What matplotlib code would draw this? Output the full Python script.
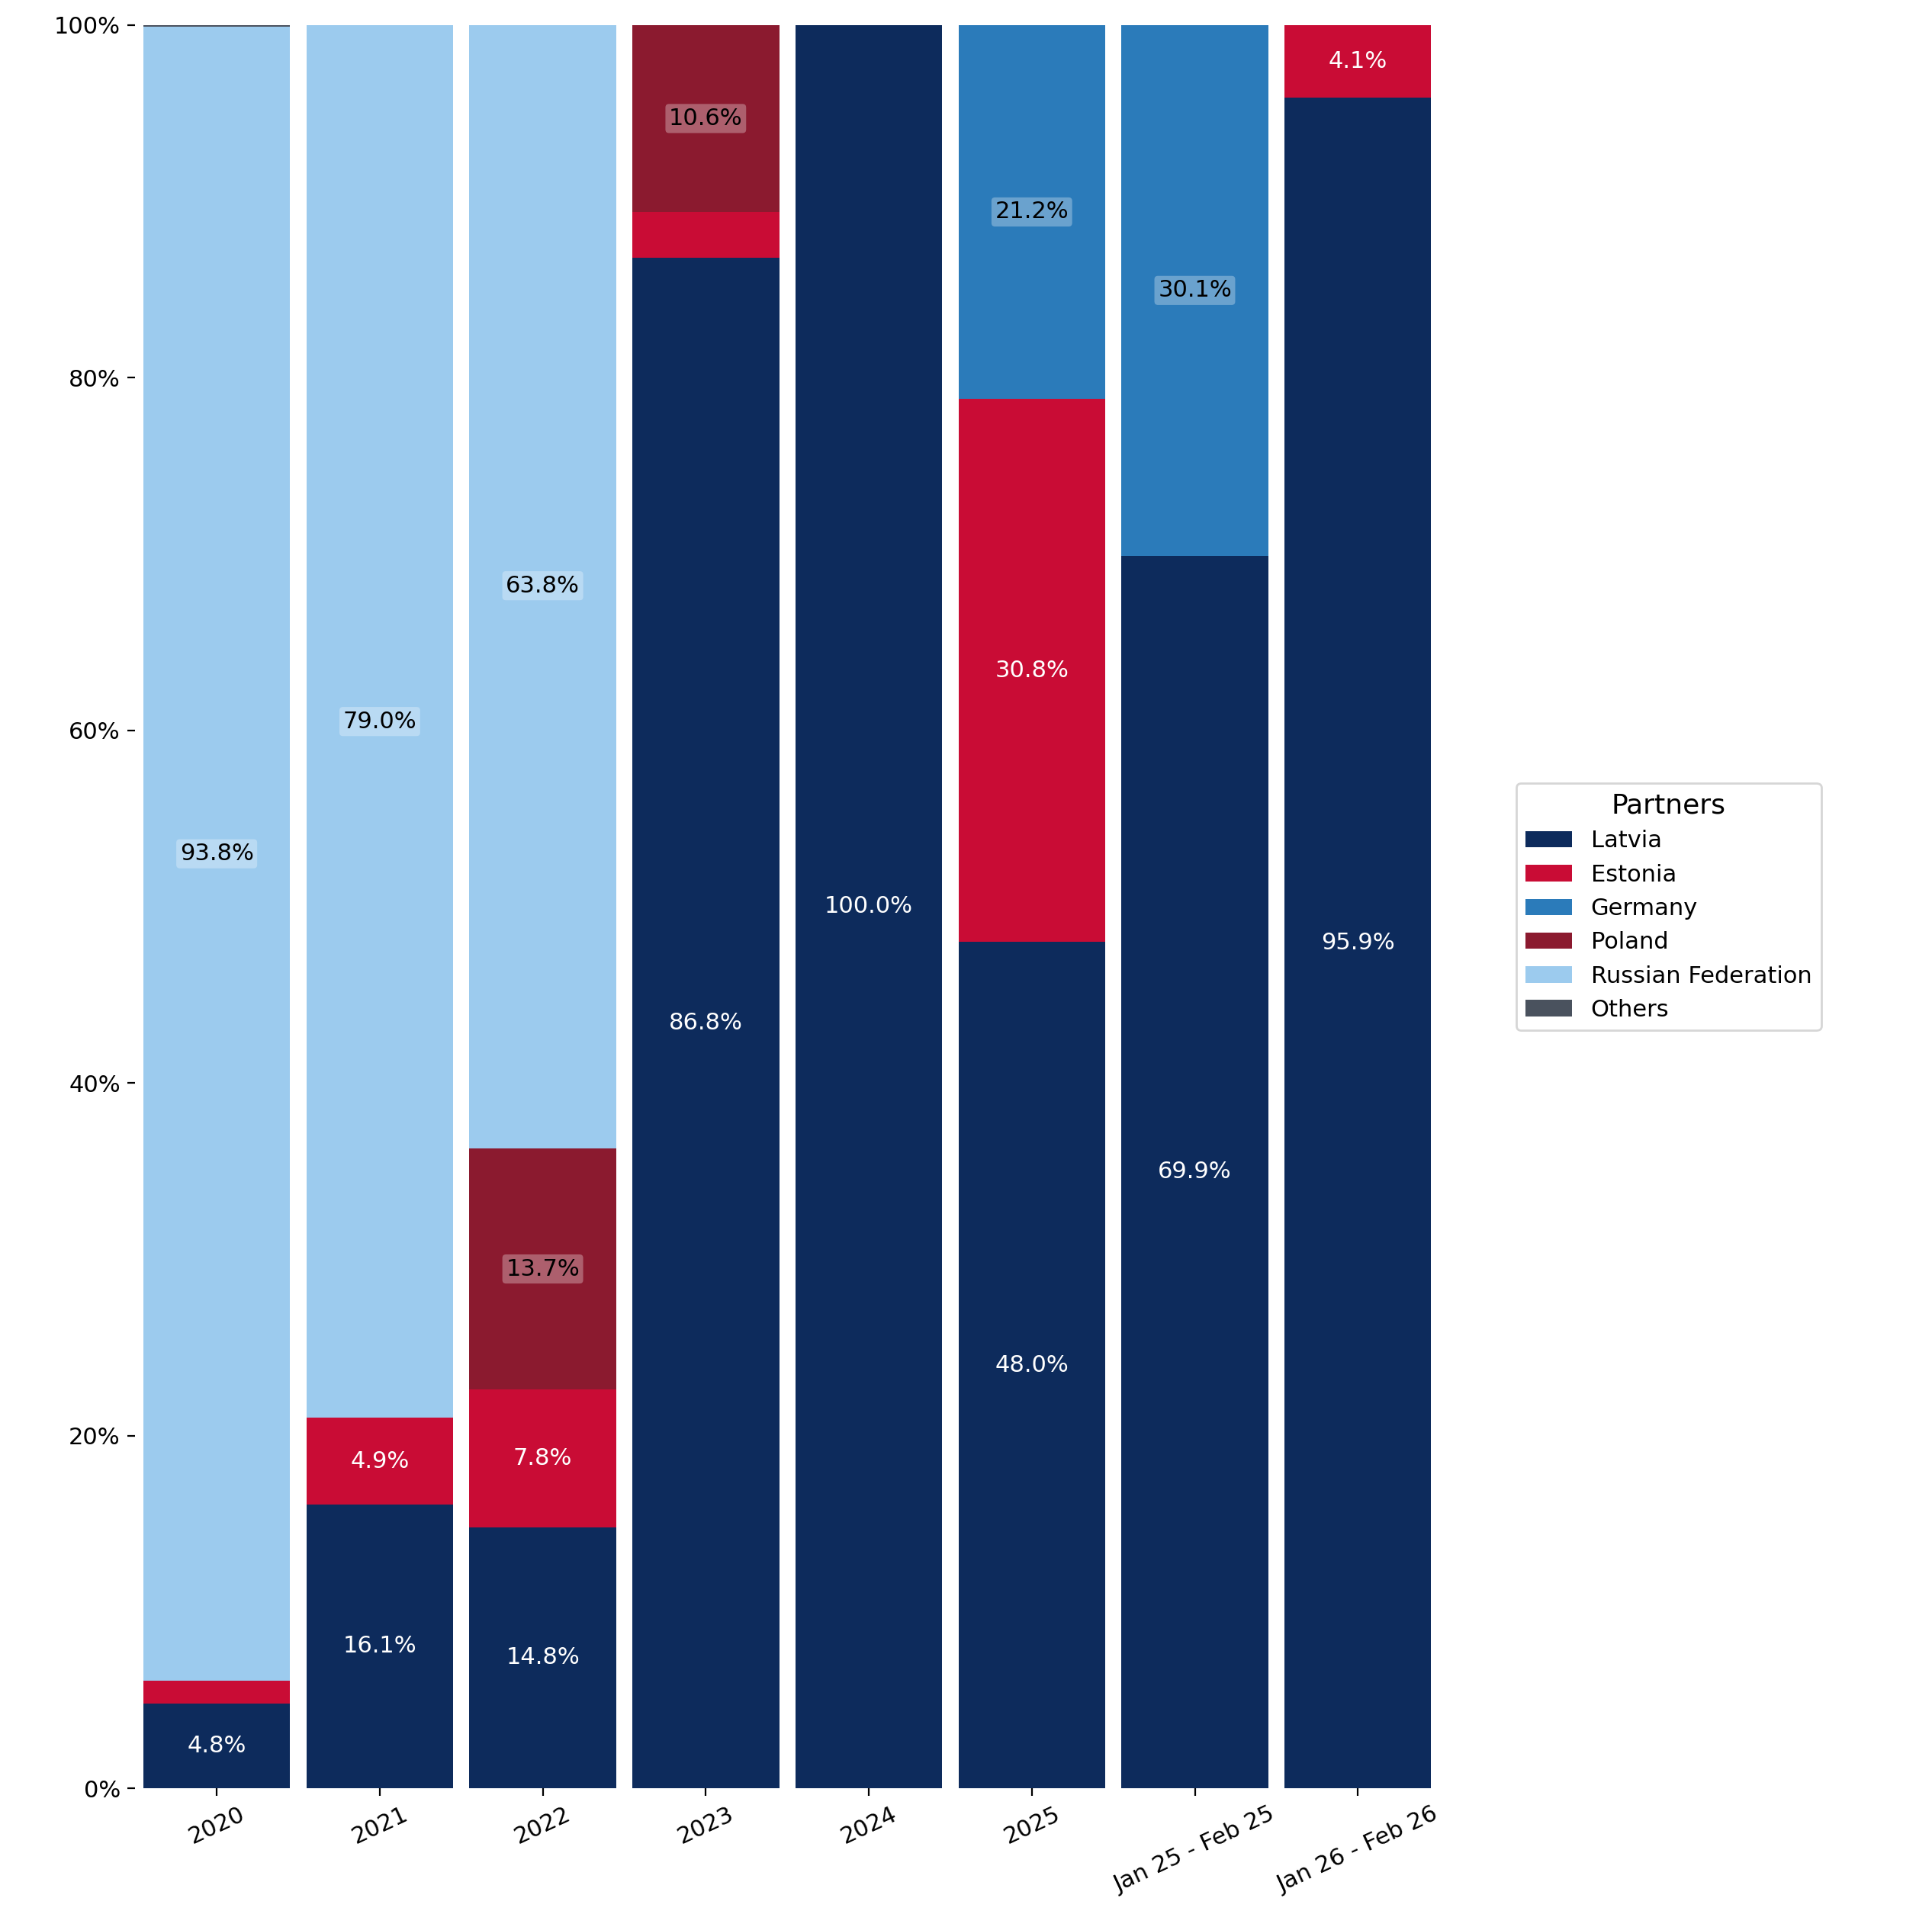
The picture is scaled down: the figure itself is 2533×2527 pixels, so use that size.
import numpy as np
import matplotlib
matplotlib.use("Agg")
import matplotlib.pyplot as plt
from matplotlib.ticker import PercentFormatter

periods = ["2020", "2021", "2022", "2023", "2024", "2025", "Jan 25 - Feb 25", "Jan 26 - Feb 26"]
partners = ["Latvia", "Estonia", "Germany", "Poland", "Russian Federation", "Others"]
latvia = [4.8, 16.1, 14.8, 86.8, 100.0, 48.0, 69.9, 95.9]
estonia = [1.3, 4.9, 7.8, 2.6, 0.0, 30.8, 0.0, 4.1]
germany = [0.0, 0.0, 0.0, 0.0, 0.0, 21.2, 30.1, 0.0]
poland = [0.0, 0.0, 13.7, 10.6, 0.0, 0.0, 0.0, 0.0]
russia = [93.8, 79.0, 63.8, 0.0, 0.0, 0.0, 0.0, 0.0]
others = [0.1, 0.0, 0.0, 0.0, 0.0, 0.0, 0.0, 0.0]

colors = ["#0d2b5c", "#c90c35", "#2b7bba", "#8b1a2f", "#9ccbee", "#4a525e"]
dark = [True, True, False, False, False, True]

fig = plt.figure(figsize=(12.665, 12.635), dpi=200)
ax = fig.add_axes([0.07, 0.072, 0.675, 0.915])

x = np.arange(len(periods))
bottom = np.zeros(len(periods))
for name, vals, col, dk in zip(partners, [latvia, estonia, germany, poland, russia, others], colors, dark):
    vals = np.array(vals)
    ax.bar(x, vals, 0.9, bottom=bottom, color=col, label=name)
    for xi, v, b in zip(x, vals, bottom):
        if v >= 4:
            if dk:
                ax.text(xi, b + v / 2, f"{v:.1f}%", ha="center", va="center", color="white", fontsize=11)
            else:
                ax.text(xi, b + v / 2, f"{v:.1f}%", ha="center", va="center", color="black", fontsize=11,
                        bbox=dict(boxstyle="round,pad=0.15", fc="white", ec="none", alpha=0.3))
    bottom += vals

ax.set_ylim(0, 100)
ax.set_xlim(-0.5, len(periods) - 0.5)
ax.yaxis.set_major_formatter(PercentFormatter(decimals=0))
ax.set_xticks(x)
ax.set_xticklabels(periods, rotation=25, fontsize=11)
ax.tick_params(axis="y", labelsize=11)
for s in ax.spines.values():
    s.set_visible(False)
ax.legend(title="Partners", loc="center left", bbox_to_anchor=(1.05, 0.5), fontsize=11, title_fontsize=13)

fig.savefig("out.png", dpi=200)
